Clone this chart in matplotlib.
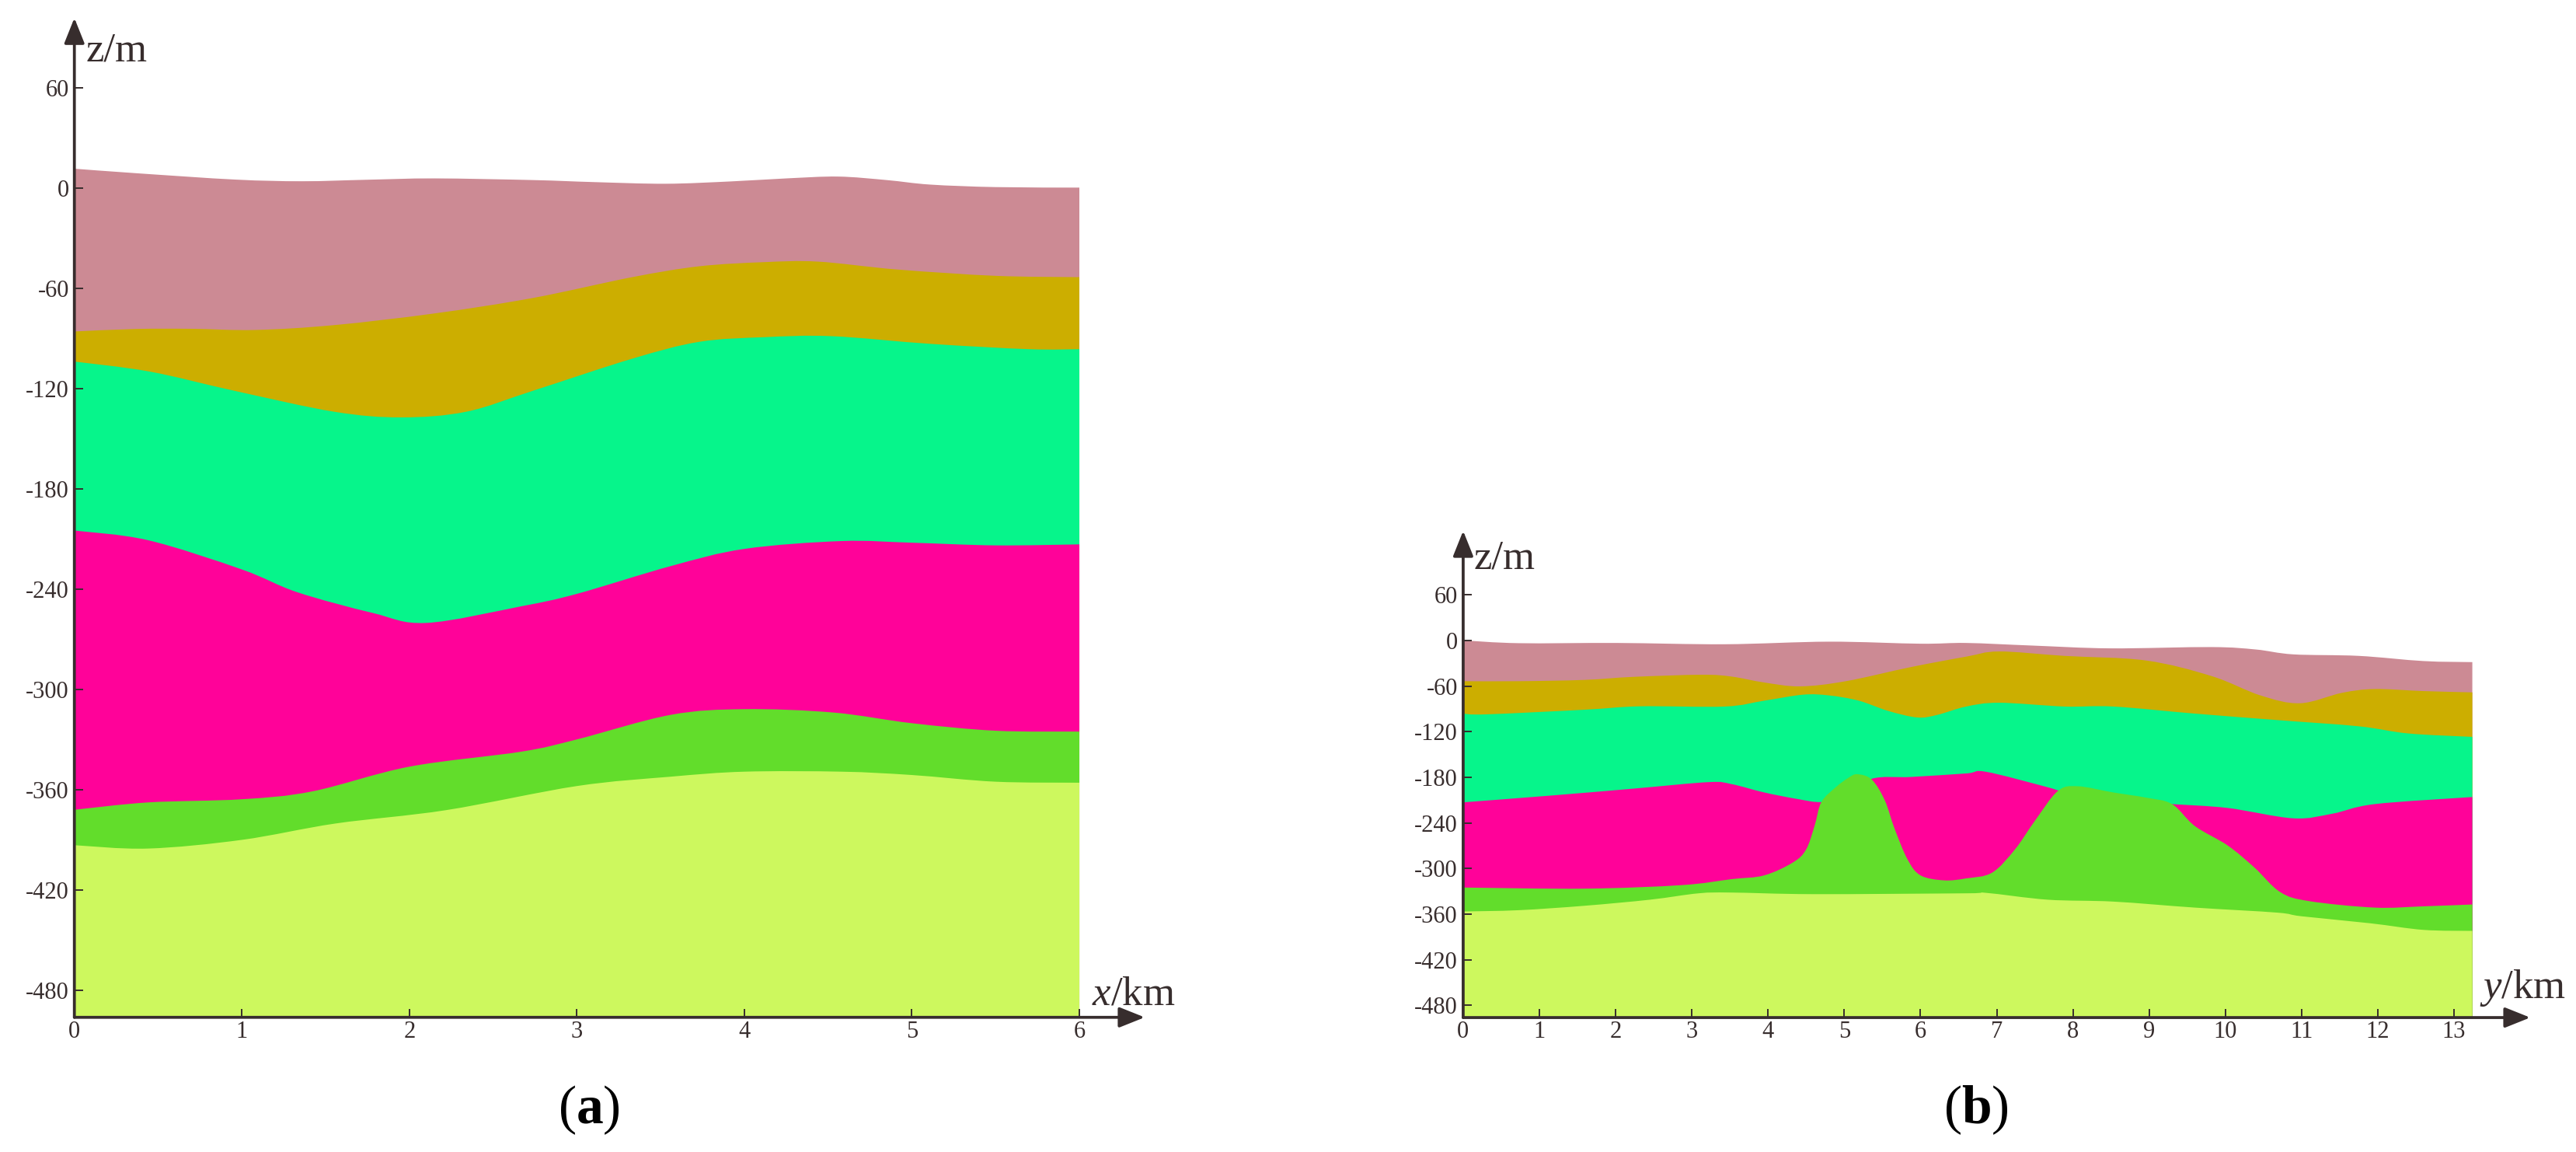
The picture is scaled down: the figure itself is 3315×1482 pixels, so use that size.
import matplotlib
matplotlib.use("Agg")
import matplotlib.pyplot as plt
from matplotlib.path import Path
from matplotlib.patches import PathPatch

plt.rcParams['font.family'] = ['Liberation Serif', 'DejaVu Serif']
plt.rcParams['mathtext.fontset'] = 'custom'
plt.rcParams['mathtext.rm'] = 'Liberation Serif'
plt.rcParams['mathtext.it'] = 'Liberation Serif:italic'
plt.rcParams['mathtext.bf'] = 'Liberation Serif:bold'

# layer colours, top to bottom
layer_colors = ['#cc8a94', '#ccae00', '#06f58b', '#ff0299', '#62dd2b', '#cdf85e']
AXC = '#372d2d'

# ---------------- panel (a): x section ----------------
a_top_x = [0, 0.37, 0.96, 1.36, 1.75, 2.15, 2.74, 3.1, 3.53, 3.92, 4.25, 4.56, 4.85, 5.11, 5.5, 6.0]
a_top_z = [11.8, 9.1, 5.3, 4.3, 5.2, 6.0, 5.0, 3.8, 2.8, 4.2, 6.0, 7.1, 5.0, 2.3, 0.8, 0.5]

a_b1_x = [0, 0.37, 0.7, 1.08, 1.55, 2.15, 2.74, 3.33, 3.73, 4.12, 4.44, 4.91, 5.5, 6.0]
a_b1_z = [-85.6, -84.1, -84.0, -84.7, -81.8, -74.8, -65.5, -53.1, -46.6, -44.1, -43.8, -48.5, -52.3, -53.1]

a_b2_x = [0, 0.45, 0.96, 1.55, 1.95, 2.34, 2.74, 3.33, 3.73, 4.12, 4.52, 5.11, 5.7, 6.0]
a_b2_z = [-103.6, -109.6, -121.2, -133.6, -137, -133.6, -121, -101.9, -91.8, -89, -88.4, -93, -96.2, -96.2]

a_b3_x = [0, 0.44, 1.0, 1.33, 1.78, 2.1, 2.67, 3.0, 3.56, 4.0, 4.58, 5.0, 5.5, 6.0]
a_b3_z = [-204.7, -210.5, -228, -241.6, -254, -260, -250, -242.6, -226, -215.7, -211, -212, -213.6, -213]

a_b4_x = [0, 0.44, 1.0, 1.42, 2.0, 2.67, 3.0, 3.56, 4.0, 4.53, 5.0, 5.5, 6.0]
a_b4_z = [-371.8, -367.4, -365.5, -360.8, -346, -337, -329.7, -315, -311.6, -313.6, -320, -324.5, -325]

a_b5_x = [0, 0.44, 1.0, 1.56, 2.22, 3.0, 3.56, 4.0, 4.58, 5.0, 5.5, 6.0]
a_b5_z = [-393, -395, -389.8, -380, -372, -357.6, -352, -349, -349, -351, -355, -355.6]

# ---------------- panel (b): y section ----------------
b_top_x = [0, 0.73, 2.02, 3.43, 4.8, 6.0, 6.6, 7.46, 8.49, 9.82, 10.4, 10.89, 11.75, 12.6, 13.24]
b_top_z = [0, -3.7, -3.4, -5.1, -1.7, -4.4, -3.4, -6.8, -10.5, -8.8, -12, -18.4, -20.4, -27.2, -28.6]

b_b1_x = [0, 0.73, 1.59, 2.23, 3.13, 3.52, 3.95, 4.42, 5.02, 5.88, 6.6, 7.03, 7.89, 8.96,
          9.82, 10.46, 10.98, 11.53, 11.96, 12.6, 13.24]
b_b1_z = [-53.7, -53.7, -52, -48, -45.2, -47.6, -55.4, -60.5, -53.7, -35, -21.4, -14.6, -20.4, -26.5,
          -47, -72.4, -82.7, -69, -64, -66.7, -68.4]

b_b2_x = [0, 0.3, 1.59, 2.32, 3.43, 3.95, 4.46, 4.8, 5.19, 5.58, 5.96, 6.22, 6.6, 7.03, 7.89,
          8.53, 9.6, 10.68, 11.75, 12.4, 13.24]
b_b2_z = [-96.3, -97.3, -91.2, -86.7, -87, -79.3, -71.4, -72.4, -79.3, -92.9, -101.4, -98, -87, -82, -87,
          -87, -96.3, -104.8, -113, -122.4, -126.9]

b_b3_x = [0, 1.16, 2.23, 3.22, 3.52, 3.95, 4.38, 4.7, 5.0, 5.36, 5.88, 6.6, 6.86, 7.67, 8.0,
          8.5, 9.0, 9.3, 10.03, 10.89, 11.4, 11.96, 13.24]
b_b3_z = [-213, -204, -195, -186.4, -189, -200, -208.5, -212.6, -205, -182, -179.6, -175, -172.8, -193.2, -203,
          -209, -213, -215.3, -220.4, -234, -228, -215.3, -206]

b_b4_x = [0, 1.59, 2.87, 3.52, 3.95, 4.33, 4.5, 4.61, 4.7, 4.89, 5.05, 5.17, 5.36, 5.53, 5.66,
          5.83, 6.0, 6.31, 6.6, 6.94, 7.24, 7.5, 7.8, 8.06, 8.53, 8.96, 9.3, 9.6, 10.03, 10.38,
          10.72, 11.1, 11.96, 12.6, 13.24]
b_b4_z = [-325, -326.5, -321.8, -314, -309, -291.8, -274.8, -244, -212.6, -193, -181, -176, -183, -210, -247.6,
          -288, -309, -315.6, -313, -305.4, -274.8, -237.4, -198.3, -191.8, -200, -206.8, -215.3, -244.2, -269.7, -298.6,
          -331, -342.9, -351.4, -349.7, -347.3]

b_b5_x = [0, 0.73, 1.59, 2.45, 3.09, 3.52, 4.59, 6.6, 6.86, 7.67, 8.53, 9.6, 10.68, 11.0, 11.9, 12.6, 13.24]
b_b5_z = [-356.5, -354.8, -349, -341, -332.6, -331.6, -333.7, -332.6, -332, -341, -343.5, -351.4, -358,
          -362.8, -372, -380.7, -382]

y_ticks = [60, 0, -60, -120, -180, -240, -300, -360, -420, -480]
a_xticks = list(range(0, 7))
b_xticks = list(range(0, 14))

ZBOT = -496

fig = plt.figure(figsize=(33.15, 14.82), dpi=100)


def layer_patch(xs, zs, color):
    # closed region from a boundary down to the base, boundary drawn as a smooth
    # bezier through the read points (Catmull-Rom handles)
    n = len(xs)
    pts = list(zip(xs, zs))
    verts = [(xs[0], ZBOT), pts[0]]
    codes = [Path.MOVETO, Path.LINETO]
    for i in range(n - 1):
        p0 = pts[max(i - 1, 0)]
        p1 = pts[i]
        p2 = pts[i + 1]
        p3 = pts[min(i + 2, n - 1)]
        c1 = (p1[0] + (p2[0] - p0[0]) / 6, p1[1] + (p2[1] - p0[1]) / 6)
        c2 = (p2[0] - (p3[0] - p1[0]) / 6, p2[1] - (p3[1] - p1[1]) / 6)
        verts += [c1, c2, p2]
        codes += [Path.CURVE4] * 3
    verts += [(xs[-1], ZBOT), (xs[0], ZBOT)]
    codes += [Path.LINETO, Path.CLOSEPOLY]
    return PathPatch(Path(verts, codes), facecolor=color, lw=0, zorder=1)


def draw_panel(rect, xlim, ztop, surfaces, xticks, xlabel, zlabel_pos, xlabel_pos, arrow_x, arrow_z):
    ax = fig.add_axes(rect)
    ax.set_xlim(*xlim)
    ax.set_ylim(ZBOT, ztop)
    # painter's order: each layer filled from its top down to the base
    for (xs, zs), c in zip(surfaces, layer_colors):
        ax.add_patch(layer_patch(xs, zs, c))
    for s in ax.spines.values():
        s.set_visible(False)
    arrow = dict(arrowstyle='-|>,head_length=1.0,head_width=0.4', lw=2.7, color=AXC,
                 mutation_scale=20, shrinkA=0, shrinkB=0)
    ax.annotate('', xy=(0, arrow_z), xytext=(0, ZBOT), arrowprops=arrow, annotation_clip=False, zorder=5)
    ax.annotate('', xy=(arrow_x, ZBOT), xytext=(0, ZBOT), arrowprops=arrow, annotation_clip=False, zorder=5)
    ax.set_yticks(y_ticks)
    ax.set_yticklabels([str(v) for v in y_ticks])
    ax.set_xticks(xticks)
    ax.set_xticklabels([str(v) for v in xticks])
    ax.tick_params(direction='in', length=8, width=1.4, color=AXC, labelcolor=AXC, labelsize=22)
    ax.tick_params(axis='x', pad=3)
    ax.tick_params(axis='y', pad=5)
    fig.text(zlabel_pos[0], zlabel_pos[1], 'z/m', fontsize=38, color=AXC, va='baseline', ha='left')
    fig.text(xlabel_pos[0], xlabel_pos[1], xlabel, fontsize=38, color=AXC, va='baseline', ha='left')
    return ax


surf_a = [(a_top_x, a_top_z), (a_b1_x, a_b1_z), (a_b2_x, a_b2_z),
          (a_b3_x, a_b3_z), (a_b4_x, a_b4_z), (a_b5_x, a_b5_z)]
surf_b = [(b_top_x, b_top_z), (b_b1_x, b_b1_z), (b_b2_x, b_b2_z),
          (b_b3_x, b_b3_z), (b_b4_x, b_b4_z), (b_b5_x, b_b5_z)]

draw_panel([0.02887, 0.1169, 0.4194, 0.8704], (0, 6.45), 104, surf_a, a_xticks,
           r'$x$/km', (0.0335, 0.9467), (0.4238, 0.1282), 6.39, 102)
draw_panel([0.5680, 0.1167, 0.4172, 0.4238], (0, 14.1), 146, surf_b, b_xticks,
           r'$y$/km', (0.5722, 0.5067), (0.9626, 0.1337), 14.0, 144)

fig.text(758 / 3315, 1 - 1428 / 1482, r'($\mathbf{a}$)', fontsize=50, ha='center', va='center')
fig.text(2543 / 3315, 1 - 1428 / 1482, r'($\mathbf{b}$)', fontsize=50, ha='center', va='center')

fig.savefig('out.png', dpi=100, facecolor='white')
